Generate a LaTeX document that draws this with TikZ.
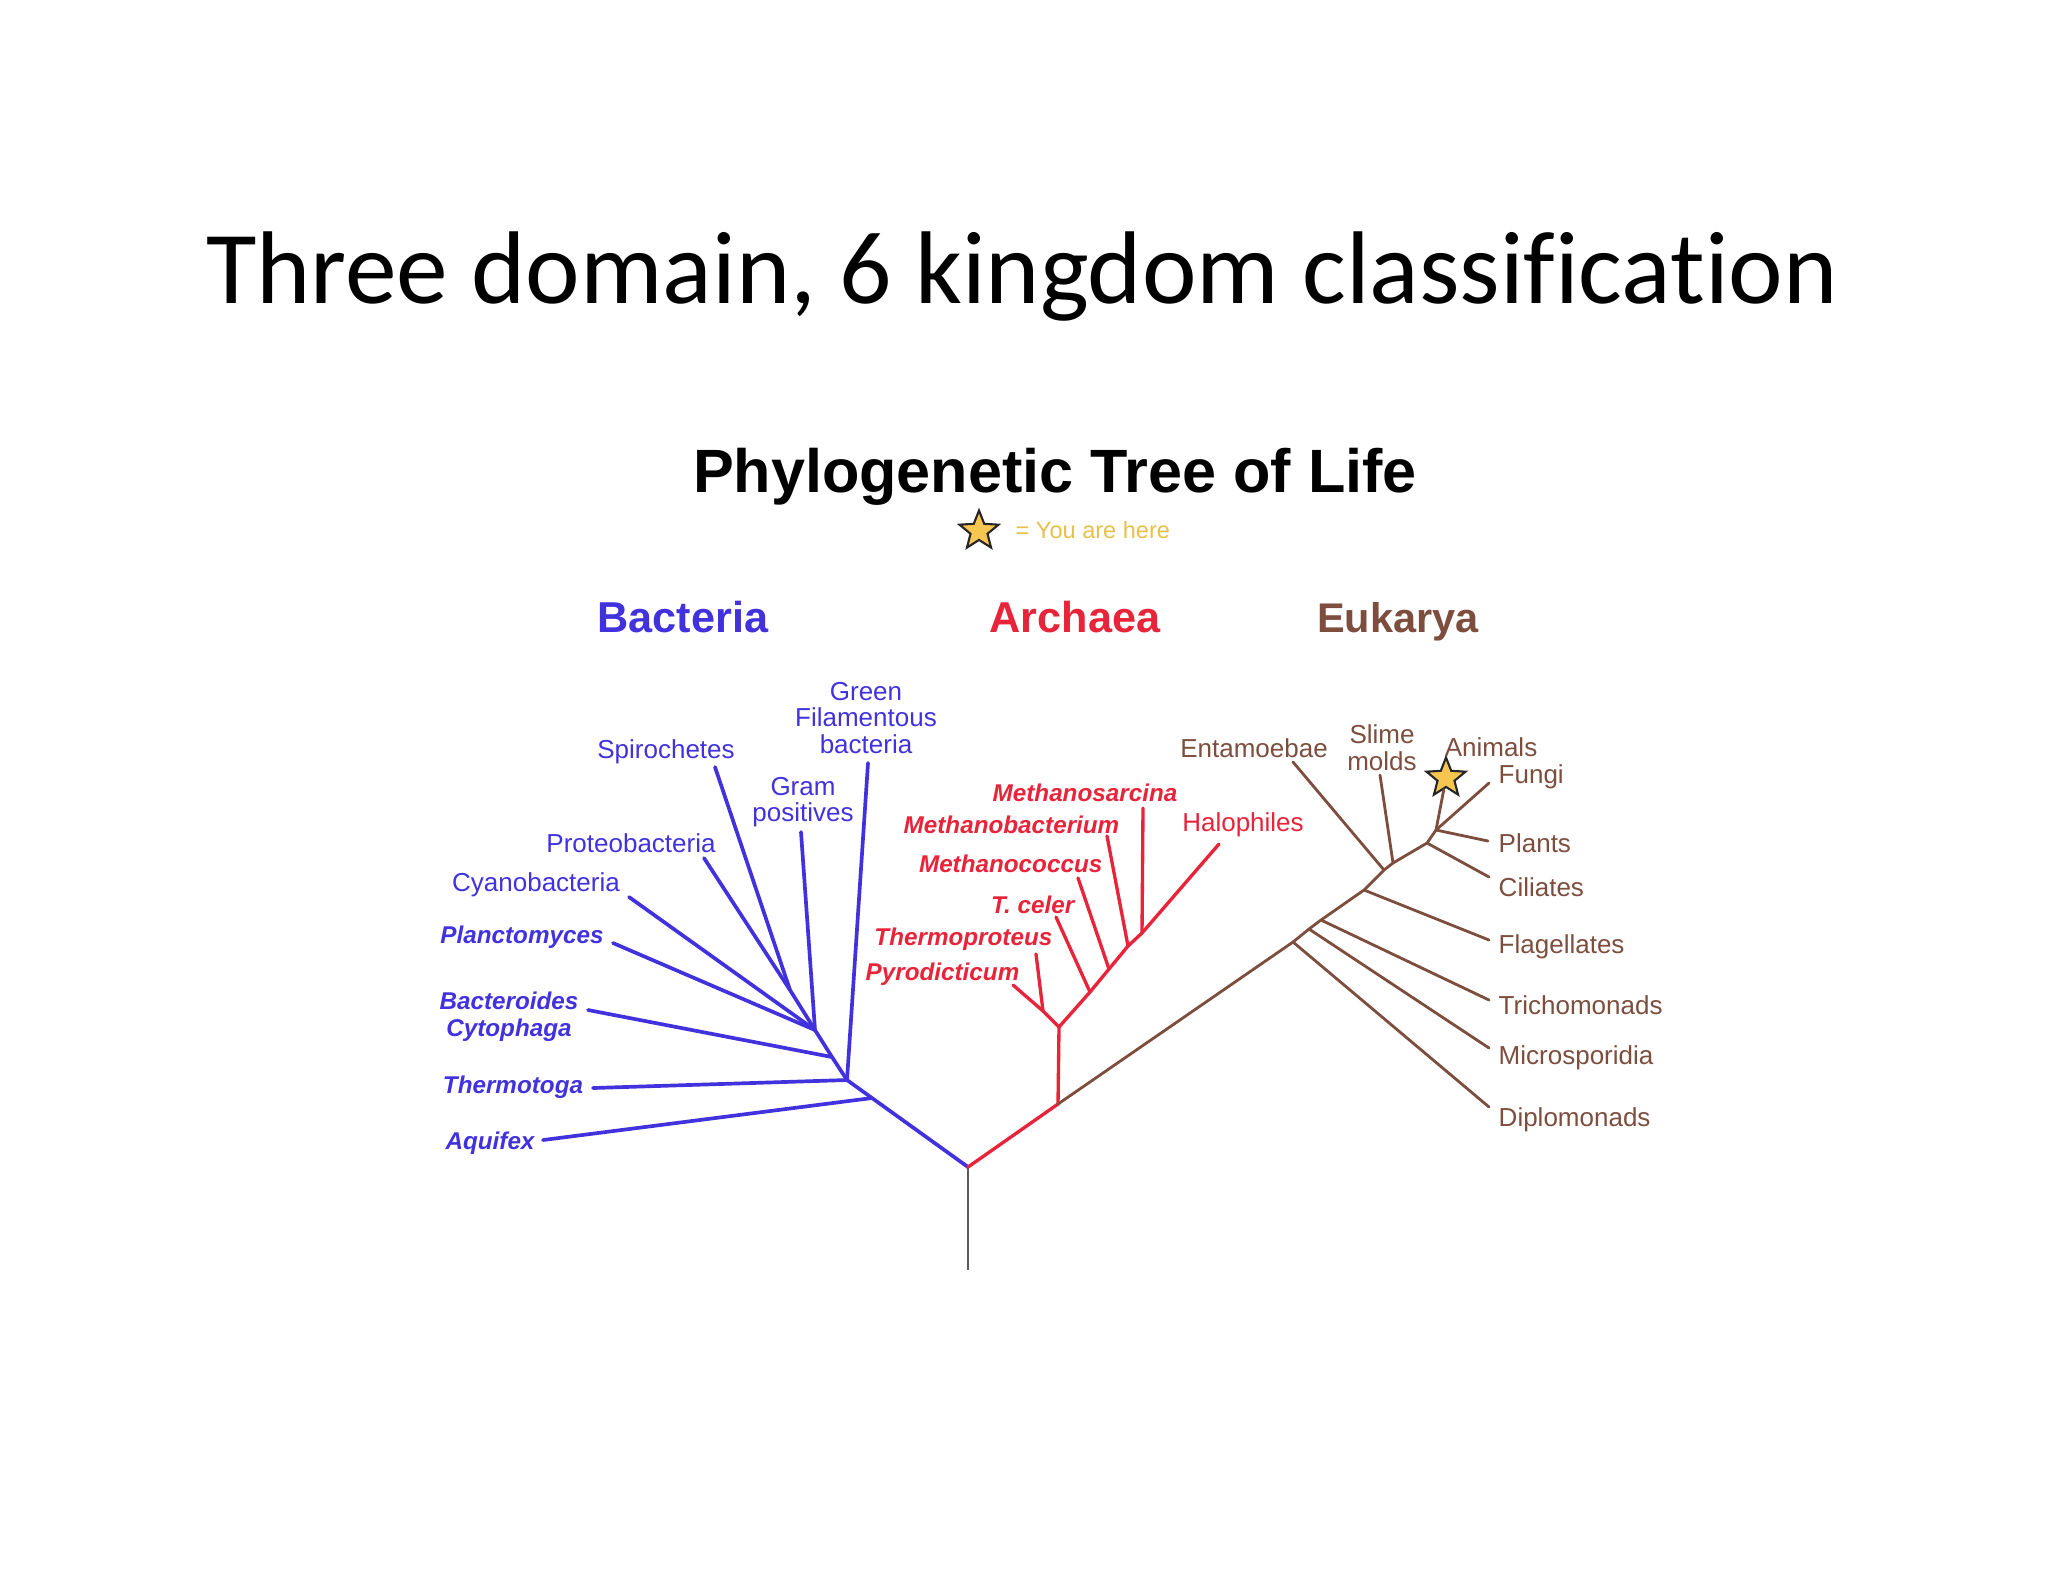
\documentclass[tikz,border=0pt]{standalone}
\usepackage{fontspec}
\setmainfont{Liberation Sans}
\newfontfamily\calibri[Ligatures={NoCommon,NoContextual,NoRare}]{Carlito}
\usetikzlibrary{shapes.geometric}
\definecolor{bact}{RGB}{66,50,222}
\definecolor{arch}{RGB}{232,36,58}
\definecolor{euk}{RGB}{125,78,62}
\definecolor{stemgrey}{RGB}{90,90,90}
\definecolor{legendtxt}{RGB}{232,192,74}
\definecolor{starfill}{RGB}{246,198,80}
\begin{document}
\begin{tikzpicture}[x=0.1mm,y=-0.1mm,
  lab/.style={inner sep=0pt, font=\fontsize{7.4}{7.6}\selectfont, align=center},
  itlab/.style={inner sep=0pt, font=\fontsize{6.9}{7.6}\selectfont\bfseries\itshape, align=center},
  bline/.style={bact, line width=1.05pt, line cap=round},
  aline/.style={arch, line width=0.95pt, line cap=round},
  eline/.style={euk, line width=0.8pt, line cap=round},
  youstar/.style={star, star points=5, star point ratio=2.3, minimum size=4.1mm, inner sep=0pt, fill=starfill, draw=black!85, line width=0.6pt}
]
\useasboundingbox (0,0) rectangle (2048,1582);
\fill[white] (0,0) rectangle (2048,1582);

% titles
\node[inner sep=0pt, anchor=base, font=\calibri\fontsize{29.4}{34}\selectfont] (title) at (1022,303) {Three domain, 6 kingdom classification};
\node[inner sep=0pt, anchor=base, font=\fontsize{17.4}{20}\selectfont\bfseries] (sub) at (1055,492) {Phylogenetic Tree of Life};
\node[youstar] (lstar) at (979,531) {};
\node[inner sep=0pt, anchor=west, text=legendtxt, font=\fontsize{6.7}{8}\selectfont] (legend) at (1015,530) {= You are here};

\node[inner sep=0pt, anchor=base, text=bact, font=\fontsize{12.3}{14}\selectfont\bfseries] (dbact) at (683,632) {Bacteria};
\node[inner sep=0pt, anchor=base, text=arch, font=\fontsize{12.3}{14}\selectfont\bfseries] (darch) at (1075,632) {Archaea};
\node[inner sep=0pt, anchor=base, text=euk, font=\fontsize{11.8}{14}\selectfont\bfseries] (deuk) at (1398,632) {Eukarya};

% ---------- root ----------
\coordinate (R) at (968,1167);
\coordinate (Rb) at (968,1270);
\draw[stemgrey, line width=0.8pt] (R) -- (Rb);

% ---------- Bacteria ----------
\coordinate (JB) at (847,1080);
\coordinate (JA) at (872,1098);
\coordinate (JB3) at (832,1057);
\coordinate (P2) at (815,1030);
\coordinate (P1) at (790,990);
\coordinate (aqE) at (543,1140);
\coordinate (thE) at (593,1088);
\coordinate (gfE) at (868,763);
\coordinate (bcE) at (588,1010);
\coordinate (plE) at (613,943);
\coordinate (cyE) at (629,897);
\coordinate (gpE) at (801,832);
\coordinate (spE) at (715,767);
\coordinate (prE) at (704,858);

\draw[bline] (R) -- (JA) -- (JB) -- (JB3) -- (P2) -- (P1) -- (spE);
\draw[bline] (JA) -- (aqE);
\draw[bline] (JB) -- (thE);
\draw[bline] (JB) -- (gfE);
\draw[bline] (JB3) -- (bcE);
\draw[bline] (P2) -- (plE);
\draw[bline] (P2) -- (cyE);
\draw[bline] (P2) -- (gpE);
\draw[bline] (P1) -- (prE);

\node[lab, text=bact] (gf) at (866,718) {Green\\Filamentous\\bacteria};
\node[lab, text=bact] (sp) at (666,752) {Spirochetes};
\node[lab, text=bact] (gp) at (803,802) {Gram\\positives};
\node[lab, text=bact] (pr) at (631,843) {Proteobacteria};
\node[lab, text=bact] (cy) at (536,885) {Cyanobacteria};
\node[itlab, text=bact] (pl) at (522,937) {Planctomyces};
\node[itlab, text=bact] (bc) at (509,1017) {Bacteroides\\Cytophaga};
\node[itlab, text=bact] (th) at (513,1087) {Thermotoga};
\node[itlab, text=bact] (aq) at (490,1143) {Aquifex};

% ---------- Archaea ----------
\coordinate (A1) at (1058,1104);
\coordinate (A2) at (1059,1027);
\coordinate (A3) at (1043,1011);
\coordinate (pyE) at (1013,985);
\coordinate (tpE) at (1036,954);
\coordinate (tcJ) at (1090,992);
\coordinate (tcE) at (1056,917);
\coordinate (mcJ) at (1109,969);
\coordinate (mcE) at (1078,878);
\coordinate (mbJ) at (1128,946);
\coordinate (mbE) at (1107,836);
\coordinate (msJ) at (1142,933);
\coordinate (msE) at (1143,808);
\coordinate (haE) at (1219,844);

\draw[aline] (R) -- (A1) -- (A2) -- (A3) -- (pyE);
\draw[aline] (A3) -- (tpE);
\draw[aline] (A2) -- (tcJ) -- (mcJ) -- (mbJ) -- (msJ) -- (haE);
\draw[aline] (tcJ) -- (tcE);
\draw[aline] (mcJ) -- (mcE);
\draw[aline] (mbJ) -- (mbE);
\draw[aline] (msJ) -- (msE);

\node[itlab, text=arch, anchor=east] (ms) at (1178,793) {Methanosarcina};
\node[itlab, text=arch, anchor=east] (mb) at (1120,825) {Methanobacterium};
\node[lab, text=arch] (ha) at (1243,825) {Halophiles};
\node[itlab, text=arch, anchor=east] (mc) at (1103,864) {Methanococcus};
\node[itlab, text=arch, anchor=east] (tc) at (1075,905) {T. celer};
\node[itlab, text=arch, anchor=east] (tp) at (1053,939) {Thermoproteus};
\node[itlab, text=arch, anchor=east] (py) at (1020,974) {Pyrodicticum};

% ---------- Eukarya ----------
\coordinate (D1) at (1293,942);
\coordinate (M1) at (1309,929);
\coordinate (T1) at (1321,920);
\coordinate (F1) at (1364,890);
\coordinate (E1) at (1384,870);
\coordinate (S1) at (1393,863);
\coordinate (C1) at (1427,843);
\coordinate (Top) at (1436,830);
\coordinate (diE) at (1489,1107);
\coordinate (miE) at (1489,1048);
\coordinate (trE) at (1489,1000);
\coordinate (flE) at (1489,940);
\coordinate (enE) at (1293,762);
\coordinate (slE) at (1380,775);
\coordinate (ciE) at (1489,877);
\coordinate (ptE) at (1488,841);
\coordinate (fuE) at (1489,783);

\draw[eline] (A1) -- (D1) -- (M1) -- (T1) -- (F1) -- (E1) -- (S1) -- (C1) -- (Top);
\draw[eline] (D1) -- (diE);
\draw[eline] (M1) -- (miE);
\draw[eline] (T1) -- (trE);
\draw[eline] (F1) -- (flE);
\draw[eline] (E1) -- (enE);
\draw[eline] (S1) -- (slE);
\draw[eline] (C1) -- (ciE);
\draw[eline] (Top) -- (ptE);
\draw[eline] (Top) -- (fuE);
\node[youstar] (hstar) at (1446,778) {};
\draw[eline] (Top) -- (hstar);

\node[lab, text=euk] (en) at (1254,748) {Entamoebae};
\node[lab, text=euk] (sl) at (1382,748) {Slime\\molds};
\node[lab, text=euk] (an) at (1491,747) {Animals};
\node[lab, text=euk, anchor=west] (fu) at (1498,777) {Fungi};
\node[lab, text=euk, anchor=west] (pt) at (1498,843) {Plants};
\node[lab, text=euk, anchor=west] (ci) at (1498,887) {Ciliates};
\node[lab, text=euk, anchor=west] (fl) at (1498,947) {Flagellates};
\node[lab, text=euk, anchor=west] (tr) at (1498,1005) {Trichomonads};
\node[lab, text=euk, anchor=west] (mi) at (1498,1058) {Microsporidia};
\node[lab, text=euk, anchor=west] (di) at (1498,1120) {Diplomonads};
\end{tikzpicture}
\end{document}
